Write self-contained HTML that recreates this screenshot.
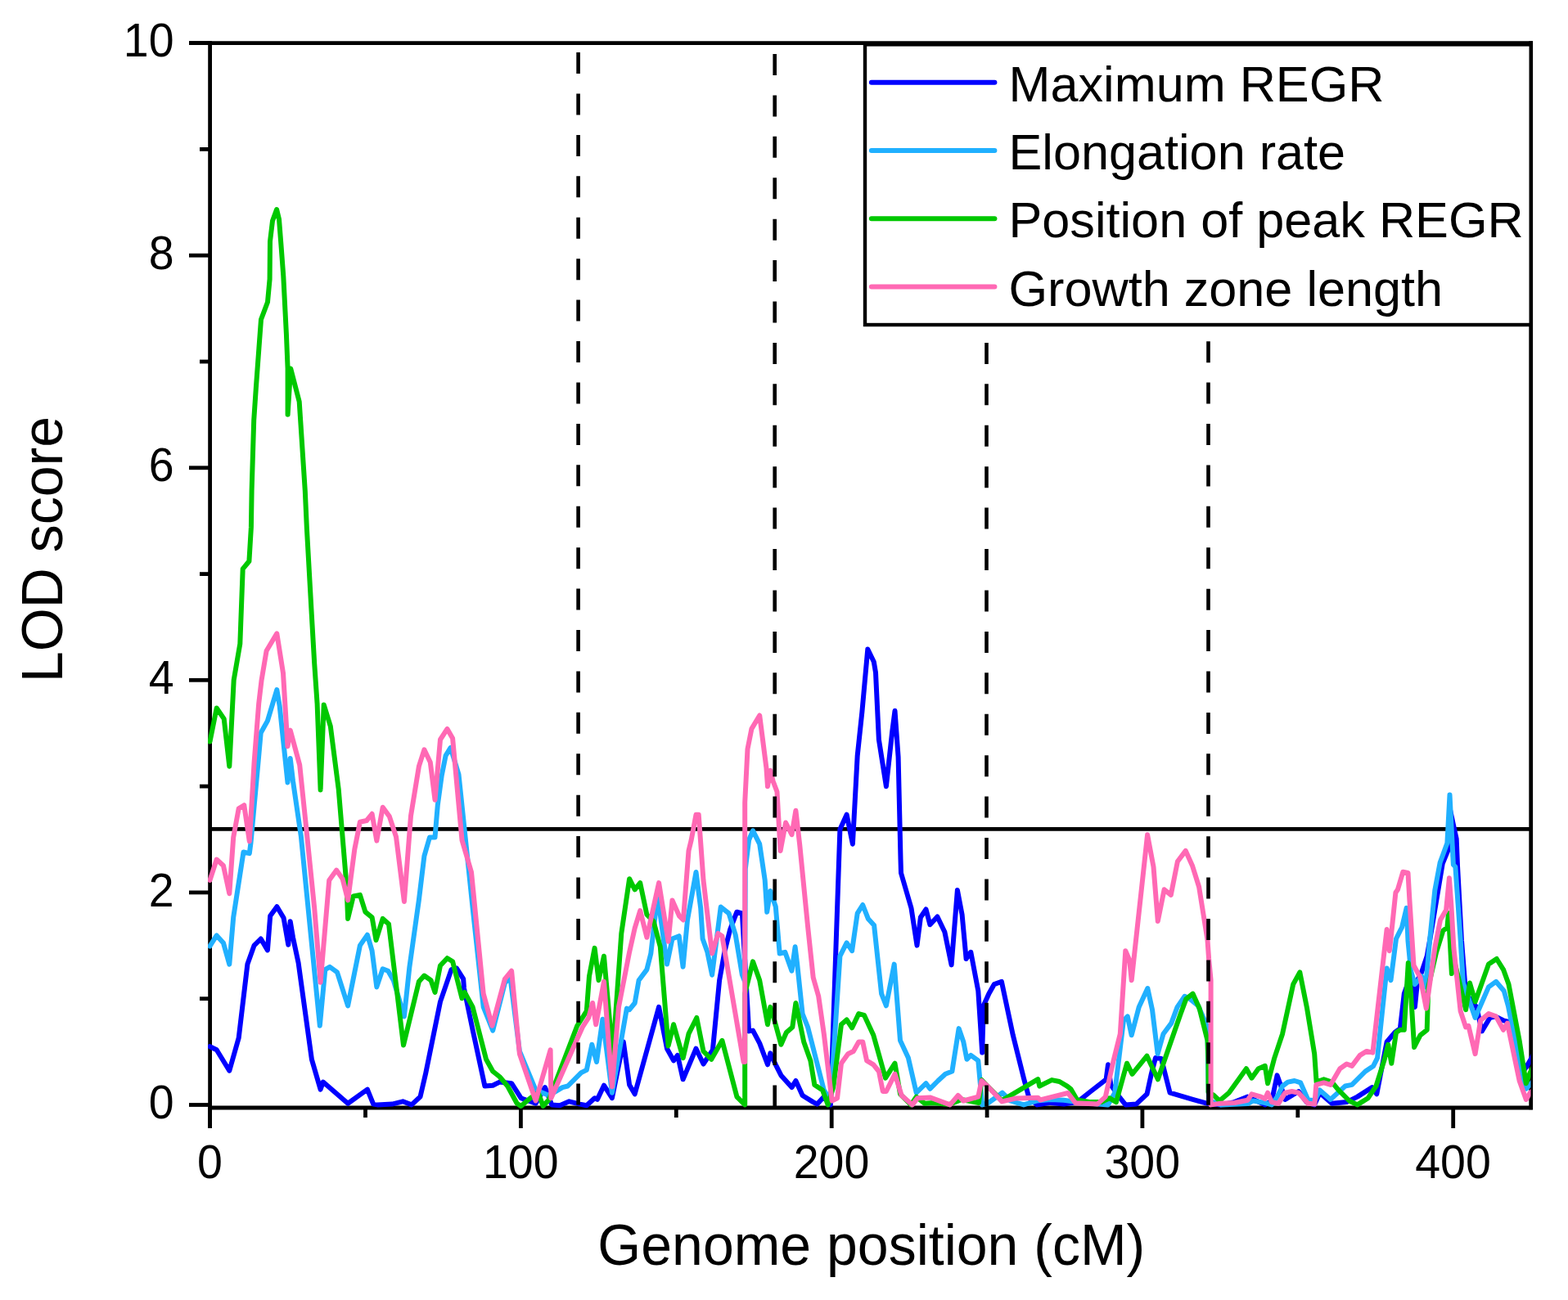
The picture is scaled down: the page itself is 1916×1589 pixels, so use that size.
<!DOCTYPE html><html><head><meta charset="utf-8"><title>LOD score plot</title><style>html,body{margin:0;padding:0;background:#fff;overflow:hidden;}svg{display:block;}text{font-family:"Liberation Sans",Arial,sans-serif;fill:#000;}</style></head><body>
<svg width="1916" height="1589" viewBox="0 0 1916 1589">
<rect width="1916" height="1589" fill="#fff"/>
<line x1="256" y1="1013.4" x2="1871" y2="1013.4" stroke="#000" stroke-width="4.7"/>
<g stroke="#000" stroke-width="4.8" fill="none">
<line x1="256.6" y1="50.2" x2="256.6" y2="1379"/>
<line x1="231" y1="52.6" x2="1873" y2="52.6"/>
<line x1="1870.7" y1="50.2" x2="1870.7" y2="1356.2"/>
<line x1="254.2" y1="1354" x2="1873" y2="1354"/>
<line x1="231" y1="1350.5" x2="256.6" y2="1350.5"/>
<line x1="244" y1="1220.7" x2="256.6" y2="1220.7"/>
<line x1="231" y1="1090.9" x2="256.6" y2="1090.9"/>
<line x1="244" y1="961.1" x2="256.6" y2="961.1"/>
<line x1="231" y1="831.3" x2="256.6" y2="831.3"/>
<line x1="244" y1="701.6" x2="256.6" y2="701.6"/>
<line x1="231" y1="571.8" x2="256.6" y2="571.8"/>
<line x1="244" y1="442.0" x2="256.6" y2="442.0"/>
<line x1="231" y1="312.2" x2="256.6" y2="312.2"/>
<line x1="244" y1="182.4" x2="256.6" y2="182.4"/>
<line x1="231" y1="52.6" x2="256.6" y2="52.6"/>
<line x1="256.6" y1="1354" x2="256.6" y2="1379"/>
<line x1="446.5" y1="1354" x2="446.5" y2="1366"/>
<line x1="636.4" y1="1354" x2="636.4" y2="1379"/>
<line x1="826.3" y1="1354" x2="826.3" y2="1366"/>
<line x1="1016.2" y1="1354" x2="1016.2" y2="1379"/>
<line x1="1206.1" y1="1354" x2="1206.1" y2="1366"/>
<line x1="1395.9" y1="1354" x2="1395.9" y2="1379"/>
<line x1="1585.8" y1="1354" x2="1585.8" y2="1366"/>
<line x1="1775.7" y1="1354" x2="1775.7" y2="1379"/>
</g>
<defs><clipPath id="cp"><rect x="254" y="40" width="1616.5" height="1330"/></clipPath></defs>
<g clip-path="url(#cp)" fill="none" stroke-width="6.0" stroke-linejoin="round" stroke-linecap="round">
<polyline stroke="#0000FF" points="256.5,1279.2 264.7,1283.3 280.3,1308.7 291.7,1268.6 302.4,1178.6 310.6,1155.6 318.7,1147.5 326.9,1161.4 330.2,1119.6 338.4,1108.2 346.6,1122.1 352.3,1154.8 354.7,1126.2 358.0,1145.8 364.6,1176.9 380.9,1294.8 391.6,1331.6 394.8,1322.6 425.1,1348.8 448.9,1331.6 456.2,1349.6 461.1,1350.4 479.1,1349.6 492.2,1346.3 502.9,1350.4 513.5,1340.6 520.0,1312.8 538.0,1224.4 551.5,1185.1 558.0,1183.5 566.2,1196.6 567.0,1208.0 577.6,1258.8 592.4,1327.5 602.2,1326.7 610.4,1322.6 625.1,1324.2 636.6,1342.2 654.6,1348.8 666.0,1329.1 674.2,1350.4 684.0,1351.2 695.5,1346.3 708.6,1349.6 716.8,1351.2 726.6,1342.2 729.9,1343.9 738.0,1326.7 747.9,1342.2 761.8,1273.5 769.1,1325.9 775.7,1337.3 805.1,1230.9 815.0,1281.7 823.1,1296.4 828.0,1289.9 834.6,1319.3 850.5,1281.7 859.5,1300.5 870.9,1283.3 879.1,1198.2 885.6,1162.2 892.2,1136.0 900.4,1114.7 906.9,1116.4 915.1,1260.4 920.0,1259.6 928.2,1275.1 938.0,1301.3 941.3,1287.4 947.8,1301.3 954.4,1314.4 967.5,1329.1 972.4,1321.0 980.6,1339.0 993.7,1347.1 998.6,1349.6 1006.8,1340.6 1014.9,1350.4 1026.4,1013.7 1034.6,995.7 1041.9,1031.7 1047.7,923.6 1053.4,870.0 1060.3,793.5 1067.8,809.0 1070.0,822.0 1073.9,904.0 1082.9,961.3 1090.2,894.2 1093.5,868.8 1097.6,925.3 1100.5,1050.0 1101.0,1067.0 1113.5,1110.0 1120.5,1155.6 1124.9,1121.3 1131.5,1111.5 1136.4,1130.3 1145.4,1120.5 1154.4,1139.3 1162.6,1179.4 1169.9,1088.0 1175.6,1118.0 1180.6,1172.0 1186.3,1163.8 1195.3,1211.3 1200.2,1286.6 1201.8,1229.3 1208.4,1214.6 1214.9,1203.1 1223.9,1199.8 1237.8,1265.3 1250.9,1317.7 1257.5,1342.2 1267.3,1350.4 1283.7,1347.9 1300.0,1349.6 1316.4,1347.1 1332.8,1334.0 1347.5,1322.6 1351.6,1319.3 1354.0,1301.3 1357.3,1325.9 1368.8,1342.2 1375.3,1350.4 1388.4,1349.6 1401.5,1337.3 1407.0,1312.0 1412.0,1293.0 1419.0,1294.0 1429.6,1335.7 1457.5,1343.9 1475.5,1348.8 1491.8,1350.4 1508.2,1347.1 1524.6,1340.6 1545.8,1350.4 1554.0,1345.5 1560.6,1314.4 1564.7,1325.9 1570.4,1343.9 1586.8,1334.0 1596.6,1347.1 1606.2,1350.4 1612.7,1335.7 1627.5,1348.8 1645.5,1347.1 1658.6,1340.6 1676.6,1329.1 1682.3,1337.3 1694.6,1273.5 1704.4,1262.0 1710.9,1257.1 1715.8,1214.6 1724.0,1191.7 1728.9,1230.9 1732.2,1198.2 1737.1,1188.4 1743.7,1168.7 1747.0,1150.0 1762.7,1055.7 1770.9,1035.6 1772.0,990.0 1779.7,1025.5 1781.0,1058.2 1786.0,1150.0 1791.1,1214.6 1804.2,1230.9 1810.8,1260.4 1820.6,1244.0 1827.1,1242.4 1837.0,1247.3 1843.5,1248.9 1856.6,1316.0 1864.8,1304.6 1869.7,1296.4 1873.0,1290.0"/>
<polyline stroke="#20B0FF" points="256.5,1156.5 264.7,1143.4 272.9,1152.4 280.3,1178.6 285.2,1121.3 297.5,1041.5 304.8,1043.1 306.5,1030.0 315.5,931.8 318.7,895.8 326.9,881.1 338.3,843.1 341.7,863.1 351.5,956.4 354.7,926.9 358.0,954.7 367.8,1021.8 390.8,1253.8 397.3,1185.1 403.0,1181.8 412.0,1188.4 425.1,1229.3 439.9,1155.6 448.9,1142.6 454.6,1162.2 460.3,1206.4 467.7,1184.3 474.2,1186.7 480.8,1198.2 493.9,1242.4 500.4,1181.8 511.9,1100.0 518.4,1046.4 525.0,1023.5 531.5,1023.5 534.8,984.2 539.7,948.2 544.6,923.6 550.6,913.8 560.5,946.6 568.6,1023.5 577.6,1110.0 590.7,1230.9 602.2,1259.6 616.9,1201.5 623.5,1194.9 634.9,1284.9 654.6,1332.4 670.9,1339.0 687.3,1329.1 693.8,1327.5 710.2,1311.1 716.8,1307.9 723.3,1276.8 729.0,1298.0 736.4,1245.7 747.9,1335.7 765.9,1232.6 769.1,1234.2 775.7,1226.0 780.6,1198.2 790.4,1185.1 795.3,1165.5 803.5,1094.0 815.0,1178.6 821.5,1147.5 829.7,1144.2 834.6,1181.8 840.0,1124.5 850.5,1066.0 856.2,1110.0 858.6,1147.5 864.4,1163.8 870.1,1191.7 880.7,1108.6 890.6,1116.4 898.7,1142.6 906.9,1191.7 910.2,1200.0 910.8,1062.0 915.1,1026.8 920.0,1015.3 928.2,1031.7 934.7,1075.9 937.2,1114.7 941.3,1089.0 947.8,1108.2 952.7,1165.5 959.3,1163.8 967.5,1186.7 971.6,1157.3 974.0,1176.9 980.6,1239.1 987.1,1255.5 1006.8,1332.4 1014.9,1345.5 1026.4,1168.7 1034.6,1152.4 1041.1,1162.2 1047.7,1116.4 1054.2,1106.0 1060.8,1122.9 1068.1,1131.1 1077.1,1214.6 1082.9,1229.3 1092.7,1178.6 1100.0,1271.8 1109.9,1293.1 1119.7,1335.7 1131.5,1324.2 1136.4,1330.8 1146.2,1321.0 1155.2,1312.8 1163.4,1309.5 1171.6,1257.1 1177.3,1273.5 1181.4,1294.8 1186.3,1289.9 1195.3,1296.4 1200.2,1350.4 1206.7,1348.8 1224.7,1335.7 1234.6,1345.5 1250.9,1350.4 1267.3,1345.5 1283.7,1343.9 1300.0,1344.7 1316.4,1347.1 1332.8,1348.8 1354.0,1350.4 1362.2,1335.7 1372.9,1247.3 1377.8,1242.4 1382.7,1265.3 1391.7,1230.9 1402.3,1208.0 1408.0,1234.2 1414.6,1288.2 1421.5,1263.7 1431.3,1250.6 1438.6,1230.9 1447.6,1217.8 1454.2,1221.1 1464.0,1229.3 1475.5,1255.5 1476.0,1300.0 1477.0,1345.0 1491.8,1350.4 1524.6,1349.0 1531.1,1345.5 1545.8,1348.0 1554.0,1350.4 1560.6,1340.6 1567.1,1327.5 1573.7,1322.6 1581.8,1321.0 1589.2,1323.4 1598.2,1343.9 1606.4,1345.5 1612.7,1332.4 1625.8,1343.9 1643.8,1327.5 1652.0,1325.9 1668.4,1309.5 1678.2,1302.9 1683.1,1293.1 1694.6,1183.5 1699.5,1198.2 1706.0,1147.5 1710.9,1137.6 1713.0,1133.7 1718.7,1109.8 1720.5,1150.0 1724.0,1186.7 1728.9,1203.1 1737.1,1193.3 1742.0,1206.4 1747.0,1150.0 1753.3,1088.4 1759.6,1054.5 1768.4,1030.5 1771.5,971.4 1774.0,1020.5 1775.9,1057.0 1778.4,1059.5 1782.2,1113.6 1784.7,1150.0 1787.9,1201.5 1802.6,1244.0 1819.0,1206.4 1828.0,1199.8 1837.8,1211.3 1843.0,1230.0 1856.6,1300.0 1864.8,1330.8 1869.7,1325.9 1873.0,1322.0"/>
<polyline stroke="#00C800" points="256.5,906.5 264.7,865.5 273.7,878.6 280.3,936.7 285.7,831.2 293.3,787.0 296.7,695.3 304.4,686.0 306.9,644.4 307.6,600.0 310.2,513.8 312.9,473.3 316.4,425.7 319.0,390.5 327.0,369.3 329.6,341.1 330.0,295.0 333.0,270.0 338.1,256.0 341.0,268.0 343.5,300.0 346.3,337.6 349.9,408.1 351.6,450.4 351.6,506.8 355.2,450.4 365.7,490.9 372.8,600.0 374.9,646.1 380.8,751.4 384.2,810.8 387.6,860.0 391.6,965.4 395.7,861.5 403.8,887.6 413.7,964.6 423.5,1082.4 425.1,1122.9 431.7,1095.5 439.9,1093.9 446.4,1114.7 454.6,1121.3 459.5,1149.1 467.7,1122.9 475.0,1129.5 493.0,1277.6 511.9,1199.8 518.4,1192.5 526.6,1198.2 531.5,1212.9 538.0,1180.2 546.5,1171.2 553.1,1175.3 564.5,1220.3 567.8,1212.9 577.6,1230.9 594.0,1294.8 602.2,1309.5 610.4,1316.0 620.2,1327.5 631.7,1348.8 636.6,1352.0 648.0,1342.2 657.8,1335.7 663.6,1352.0 670.9,1343.9 705.3,1253.8 716.8,1235.8 720.0,1193.3 726.6,1158.9 731.5,1198.2 738.0,1168.7 748.7,1289.9 759.3,1140.9 769.1,1074.2 775.7,1087.3 782.2,1079.1 790.4,1118.0 798.6,1126.2 806.8,1157.3 816.6,1278.4 823.1,1252.2 834.7,1293.1 841.5,1263.7 851.3,1244.0 859.5,1284.9 869.3,1294.8 882.4,1271.8 900.4,1340.6 910.2,1350.4 910.2,1214.6 920.0,1175.3 928.2,1198.2 938.0,1252.2 941.3,1230.9 944.6,1240.8 954.4,1276.8 960.9,1262.0 968.3,1255.5 972.4,1226.0 982.2,1273.5 990.4,1296.4 995.3,1325.9 1005.1,1332.4 1011.7,1350.4 1018.2,1329.1 1028.0,1252.2 1034.6,1246.5 1041.1,1256.3 1049.3,1239.1 1055.9,1240.8 1067.3,1265.3 1082.0,1317.7 1093.5,1299.7 1100.0,1337.3 1113.1,1350.4 1119.7,1340.6 1130.0,1348.8 1140.0,1348.0 1160.0,1350.0 1175.0,1344.0 1196.0,1348.0 1199.5,1320.0 1206.7,1327.5 1224.5,1345.5 1227.0,1343.6 1268.3,1319.1 1270.2,1327.6 1285.2,1320.1 1294.6,1322.0 1304.0,1327.6 1308.7,1331.4 1316.2,1344.5 1332.8,1347.1 1345.9,1347.1 1355.7,1342.2 1363.9,1347.1 1377.0,1299.7 1383.5,1312.8 1401.5,1290.7 1414.9,1319.3 1431.3,1271.8 1442.7,1239.1 1449.3,1221.1 1457.5,1214.6 1465.6,1232.6 1475.5,1271.8 1476.5,1300.0 1476.5,1335.0 1483.0,1338.6 1490.2,1345.5 1501.7,1335.7 1514.7,1317.7 1522.9,1306.2 1529.5,1317.7 1537.7,1306.2 1545.8,1302.9 1549.1,1324.2 1557.3,1293.1 1567.1,1263.7 1580.2,1203.1 1588.3,1188.4 1597.0,1232.0 1606.2,1288.2 1608.6,1322.6 1617.6,1319.3 1627.5,1322.6 1635.6,1332.4 1648.7,1345.5 1658.6,1350.4 1671.7,1342.2 1681.5,1327.5 1691.3,1296.4 1696.2,1276.8 1700.3,1299.7 1706.0,1262.0 1710.9,1258.8 1715.8,1258.8 1720.8,1176.9 1724.0,1214.6 1728.1,1280.0 1735.5,1265.3 1743.7,1258.8 1745.3,1206.4 1755.1,1163.8 1763.3,1137.6 1768.4,1133.7 1770.0,1116.0 1773.9,1190.0 1775.6,1168.7 1781.3,1191.7 1791.1,1234.2 1796.0,1201.5 1802.6,1224.4 1819.0,1178.6 1828.8,1172.0 1837.0,1185.1 1843.5,1203.1 1856.6,1271.8 1864.8,1324.2 1869.7,1311.1 1873.0,1305.0"/>
<polyline stroke="#FF69B4" points="256.5,1075.9 264.7,1050.5 272.9,1057.9 280.3,1092.2 285.2,1023.5 291.7,988.3 298.3,984.2 304.8,1028.4 310.6,931.8 316.2,860.0 319.6,831.2 325.6,795.5 338.3,774.3 346.0,822.7 351.5,912.2 354.7,892.6 366.2,935.1 374.4,1013.7 384.2,1110.0 391.6,1200.7 402.2,1075.9 411.2,1063.6 418.6,1074.2 425.1,1100.4 433.3,1038.2 439.9,1004.7 448.0,1003.0 454.6,994.8 460.3,1027.6 467.7,986.7 475.9,998.1 484.0,1022.7 493.9,1102.0 502.0,997.3 511.9,936.7 518.4,916.3 525.8,931.8 531.5,977.7 538.0,904.0 546.5,890.9 553.1,902.4 564.5,1026.8 576.0,1066.0 590.7,1214.6 601.4,1253.8 616.9,1196.6 625.1,1186.7 634.9,1288.2 654.6,1345.5 672.6,1283.3 673.4,1342.2 703.7,1273.5 711.8,1255.5 719.2,1244.0 724.1,1226.0 728.2,1252.2 738.0,1199.8 747.9,1328.3 756.0,1230.9 769.1,1163.8 775.7,1134.4 782.2,1113.1 790.4,1145.8 805.1,1079.1 816.6,1150.7 821.5,1100.4 830.0,1119.6 834.9,1124.5 841.5,1039.9 844.7,1026.8 850.5,995.7 853.7,995.7 859.5,1075.9 870.1,1165.5 877.5,1140.9 882.4,1144.2 908.6,1298.0 910.2,1298.0 910.2,980.9 913.5,915.5 918.4,890.9 928.2,874.5 936.4,938.4 938.0,961.3 941.3,941.7 944.6,954.7 949.5,967.8 953.6,1039.9 960.1,1005.5 967.5,1020.2 972.4,990.8 977.3,1033.3 987.1,1132.7 993.7,1194.9 1000.2,1217.8 1006.8,1263.7 1016.6,1345.5 1023.1,1342.2 1028.0,1299.7 1036.2,1288.2 1042.8,1285.0 1049.3,1273.5 1054.2,1273.5 1059.1,1296.4 1067.3,1301.3 1073.9,1309.5 1078.8,1334.0 1082.9,1334.0 1093.5,1312.8 1101.7,1339.0 1114.8,1350.4 1121.3,1342.2 1136.4,1341.4 1160.9,1350.4 1170.7,1339.0 1177.3,1345.5 1195.3,1340.6 1199.4,1321.0 1206.7,1327.5 1224.3,1346.4 1241.0,1342.6 1268.3,1341.7 1271.1,1344.5 1285.2,1340.8 1304.9,1336.0 1314.3,1348.3 1340.9,1349.6 1350.8,1340.6 1360.6,1296.4 1368.8,1263.7 1375.3,1162.2 1380.2,1173.6 1382.7,1198.2 1402.1,1020.2 1409.5,1059.5 1414.8,1126.0 1422.6,1087.3 1430.8,1093.9 1438.9,1053.0 1448.8,1039.9 1456.9,1057.9 1465.1,1084.0 1475.5,1149.1 1477.1,1172.0 1479.6,1198.2 1479.6,1350.4 1491.8,1348.8 1508.2,1348.0 1524.6,1344.7 1529.5,1337.3 1540.9,1340.6 1545.8,1343.0 1549.1,1335.7 1554.0,1347.1 1562.2,1348.8 1570.4,1335.7 1578.6,1334.0 1586.8,1335.7 1598.2,1348.8 1606.4,1349.6 1608.3,1325.9 1617.6,1323.4 1625.8,1325.9 1637.3,1306.2 1645.5,1300.5 1652.0,1302.9 1661.8,1289.9 1670.0,1284.9 1677.4,1286.6 1694.6,1136.0 1697.8,1162.2 1700.4,1138.8 1705.4,1091.0 1708.0,1087.2 1714.3,1065.8 1720.5,1067.0 1722.4,1100.0 1727.5,1180.0 1735.5,1194.9 1742.8,1232.6 1753.5,1157.3 1760.0,1124.5 1767.1,1112.3 1770.9,1073.3 1773.4,1107.3 1776.4,1158.9 1784.6,1235.8 1791.1,1255.5 1794.4,1253.8 1802.6,1288.2 1809.1,1247.3 1819.0,1239.1 1828.0,1242.4 1837.0,1258.8 1841.9,1250.6 1856.6,1321.0 1864.8,1343.9 1869.7,1335.7 1873.0,1333.0"/>
</g>
<line x1="706.6" y1="1350.6" x2="706.6" y2="52" stroke="#000" stroke-width="4.6" stroke-dasharray="26 24.42"/>
<line x1="946.7" y1="1352.5" x2="946.7" y2="52" stroke="#000" stroke-width="4.6" stroke-dasharray="26 24.42"/>
<line x1="1205.5" y1="1352.5" x2="1205.5" y2="52" stroke="#000" stroke-width="4.6" stroke-dasharray="26 24.42"/>
<line x1="1476.5" y1="1350.7" x2="1476.5" y2="52" stroke="#000" stroke-width="4.6" stroke-dasharray="26 24.42"/>
<text transform="translate(212.5,1367.1) scale(1,1.035)" font-size="55.5" text-anchor="end">0</text>
<text transform="translate(212.5,1107.5) scale(1,1.035)" font-size="55.5" text-anchor="end">2</text>
<text transform="translate(212.5,847.9) scale(1,1.035)" font-size="55.5" text-anchor="end">4</text>
<text transform="translate(212.5,588.4) scale(1,1.035)" font-size="55.5" text-anchor="end">6</text>
<text transform="translate(212.5,328.8) scale(1,1.035)" font-size="55.5" text-anchor="end">8</text>
<text transform="translate(212.5,69.2) scale(1,1.035)" font-size="55.5" text-anchor="end">10</text>
<text transform="translate(256.4,1440) scale(1,1.035)" font-size="55.5" text-anchor="middle">0</text>
<text transform="translate(636.2,1440) scale(1,1.035)" font-size="55.5" text-anchor="middle">100</text>
<text transform="translate(1016.0,1440) scale(1,1.035)" font-size="55.5" text-anchor="middle">200</text>
<text transform="translate(1395.7,1440) scale(1,1.035)" font-size="55.5" text-anchor="middle">300</text>
<text transform="translate(1775.5,1440) scale(1,1.035)" font-size="55.5" text-anchor="middle">400</text>
<text transform="translate(1064.8,1545.6) scale(1,1.046)" font-size="68" text-anchor="middle">Genome position (cM)</text>
<text transform="translate(76,671.5) rotate(-90) scale(1,1.036)" font-size="68" text-anchor="middle">LOD score</text>
<rect x="1057" y="54.4" width="813.7" height="342.6" fill="#fff" stroke="#000" stroke-width="4.4"/>
<line x1="1064.9" y1="100.8" x2="1215.4" y2="100.8" stroke="#0000FF" stroke-width="6" stroke-linecap="round"/>
<text x="1232.5" y="123.9" font-size="61.2">Maximum REGR</text>
<line x1="1064.9" y1="184.0" x2="1215.4" y2="184.0" stroke="#20B0FF" stroke-width="6" stroke-linecap="round"/>
<text x="1232.5" y="207.1" font-size="61.2">Elongation rate</text>
<line x1="1064.9" y1="267.2" x2="1215.4" y2="267.2" stroke="#00C800" stroke-width="6" stroke-linecap="round"/>
<text x="1232.5" y="290.3" font-size="61.2">Position of peak REGR</text>
<line x1="1064.9" y1="350.4" x2="1215.4" y2="350.4" stroke="#FF69B4" stroke-width="6" stroke-linecap="round"/>
<text x="1232.5" y="373.5" font-size="61.2">Growth zone length</text>
</svg></body></html>
